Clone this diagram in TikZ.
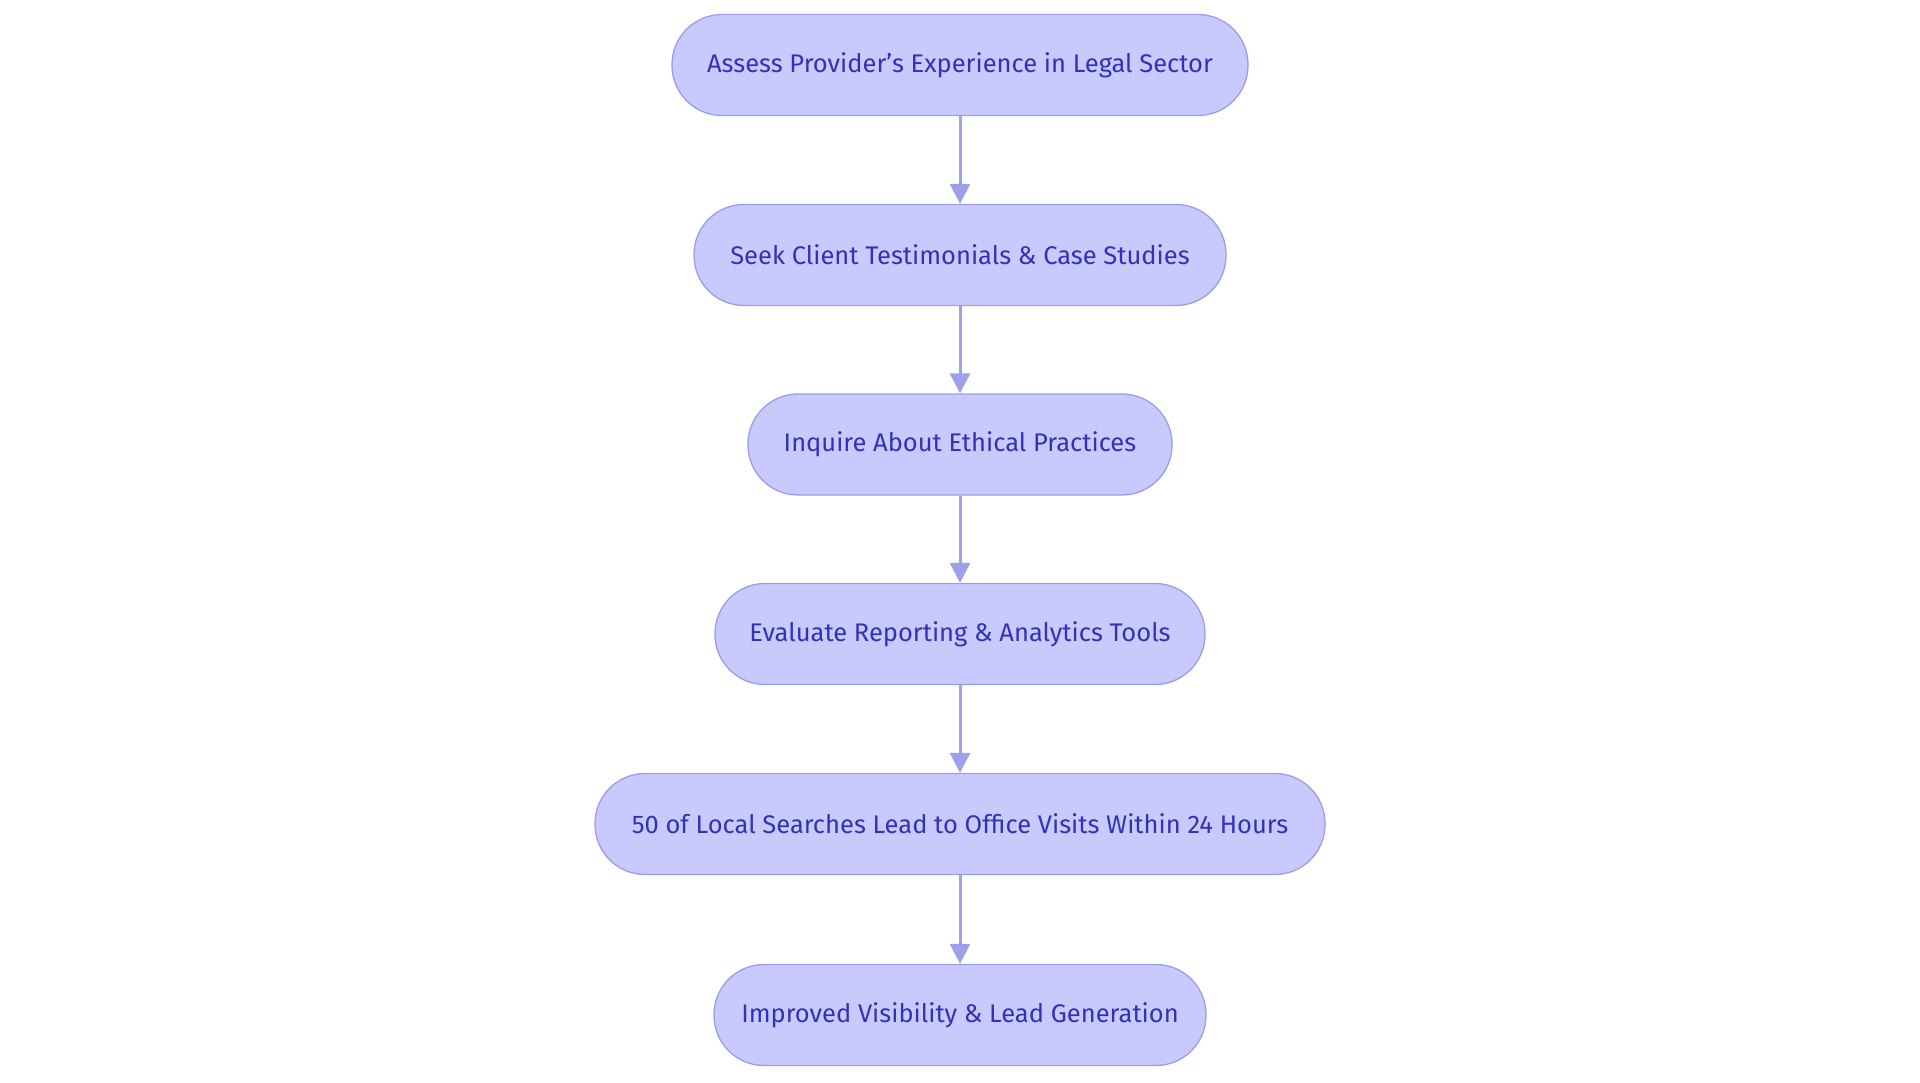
\documentclass[tikz,border=0pt]{standalone}
\usepackage{fontspec}
\setmainfont{Fira Sans}
\usetikzlibrary{arrows.meta}
\definecolor{boxfill}{HTML}{C8CAFD}
\definecolor{boxline}{HTML}{9A9EE8}
\definecolor{boxtext}{HTML}{3033B5}
\definecolor{arrowc}{HTML}{9EA1EA}
\tikzset{
  stepbox/.style={draw=boxline, fill=boxfill, line width=1.3pt, rounded corners=50pt,
    minimum height=101pt, inner sep=0pt, text=boxtext,
    font=\fontsize{25.5}{30}\selectfont},
  flow/.style={draw=arrowc, line width=3pt, -{Triangle[length=20pt,width=20pt]}}
}
\begin{document}
\begin{tikzpicture}[x=1pt,y=-1pt]
\useasboundingbox (0,0) rectangle (1920,1083);
\node[stepbox, minimum width=576pt] (n1) at (960,65) {Assess Provider’s Experience in Legal Sector};
\node[stepbox, minimum width=532pt] (n2) at (960,255) {Seek Client Testimonials \& Case Studies};
\node[stepbox, minimum width=424pt] (n3) at (960,444.5) {Inquire About Ethical Practices};
\node[stepbox, minimum width=490pt] (n4) at (960,634) {Evaluate Reporting \& Analytics Tools};
\node[stepbox, minimum width=730pt] (n5) at (960,824) {50 of Local Searches Lead to Office Visits Within 24 Hours};
\node[stepbox, minimum width=492pt] (n6) at (960,1015) {Improved Visibility \& Lead Generation};
\draw[flow] (n1) -- (n2);
\draw[flow] (n2) -- (n3);
\draw[flow] (n3) -- (n4);
\draw[flow] (n4) -- (n5);
\draw[flow] (n5) -- (n6);
\end{tikzpicture}
\end{document}
